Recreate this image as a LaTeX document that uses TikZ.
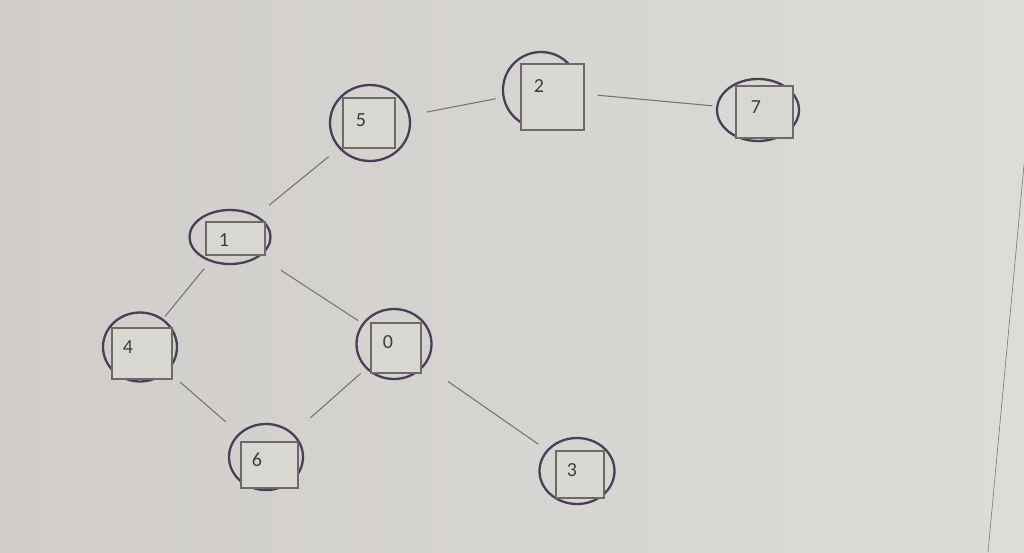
\documentclass[tikz,border=0pt]{standalone}
\usepackage{fontspec}
\setmainfont{Carlito}
\usetikzlibrary{shapes.geometric}
\definecolor{bgA}{HTML}{D0CDCB}
\definecolor{bgB}{HTML}{DDDCD7}
\definecolor{bgC}{HTML}{D9D7D2}
\definecolor{ringc}{HTML}{483F58}
\definecolor{boxc}{HTML}{6E6A66}
\definecolor{edgec}{HTML}{77757A}
\definecolor{txtc}{HTML}{403B40}
\tikzset{
  ring/.style={ellipse, draw=ringc, line width=2.3pt, inner sep=0pt, minimum width=#1},
  boxn/.style={rectangle, draw=boxc, line width=1.1pt, fill=bgC, inner sep=0pt},
  lbl/.style={text=txtc, font=\fontsize{20}{20}\selectfont, inner sep=0pt},
  edge/.style={draw=edgec, line width=1.1pt}
}
\begin{document}
\begin{tikzpicture}[x=1pt,y=-1pt]
\useasboundingbox (0,0) rectangle (1024,552);
\shade[left color=bgA, right color=bgB] (0,0) rectangle (1024,552);
\draw[edgec, line width=0.6pt] (1024,165) -- (988,552);

% rings
\node[ring=80pt, minimum height=76pt] (c5) at (370,123) {};
\node[ring=76pt, minimum height=76pt] (c2) at (541,90) {};
\node[ring=82pt, minimum height=62pt] (c7) at (758,110) {};
\node[ring=81pt, minimum height=54pt] (c1) at (230,237) {};
\node[ring=74pt, minimum height=69pt] (c4) at (140,347) {};
\node[ring=75pt, minimum height=70pt] (c0) at (394,344) {};
\node[ring=74pt, minimum height=66pt] (c6) at (266,457) {};
\node[ring=75pt, minimum height=66pt] (c3) at (577,471) {};

% boxes
\node[boxn, minimum width=52pt, minimum height=50pt] (s5) at (369,123) {};
\node[boxn, minimum width=63pt, minimum height=66pt] (s2) at (552.5,97) {};
\node[boxn, minimum width=57pt, minimum height=52pt] (s7) at (764.5,112) {};
\node[boxn, minimum width=59pt, minimum height=33pt] (s1) at (235.5,238.5) {};
\node[boxn, minimum width=60pt, minimum height=51pt] (s4) at (142,353.5) {};
\node[boxn, minimum width=50pt, minimum height=50pt] (s0) at (396,348) {};
\node[boxn, minimum width=57pt, minimum height=46pt] (s6) at (269.5,465) {};
\node[boxn, minimum width=48pt, minimum height=47pt] (s3) at (580,474.5) {};

% labels
\node[lbl] (t5) at (361,120) {5};
\node[lbl] (t2) at (539,86) {2};
\node[lbl] (t7) at (756,107) {7};
\node[lbl] (t1) at (224,240) {1};
\node[lbl] (t4) at (128,347) {4};
\node[lbl] (t0) at (388,342) {0};
\node[lbl] (t6) at (257,460) {6};
\node[lbl] (t3) at (572,470) {3};

% edges
\draw[edge, shorten <=13pt, shorten >=16pt] (c5) -- (c1);
\draw[edge, shorten <=17pt, shorten >=7pt] (c5) -- (c2);
\draw[edge, shorten <=18pt, shorten >=4pt] (c2) -- (c7);
\draw[edge, shorten <=9pt, shorten >=3pt] (c1) -- (c4);
\draw[edge, shorten <=25pt, shorten >=5pt] (c1) -- (c0);
\draw[edge, shorten <=16pt, shorten >=17pt] (c4) -- (c6);
\draw[edge, shorten <=7pt, shorten >=23pt] (c0) -- (c6);
\draw[edge, shorten <=28pt, shorten >=10pt] (c0) -- (c3);
\end{tikzpicture}
\end{document}
